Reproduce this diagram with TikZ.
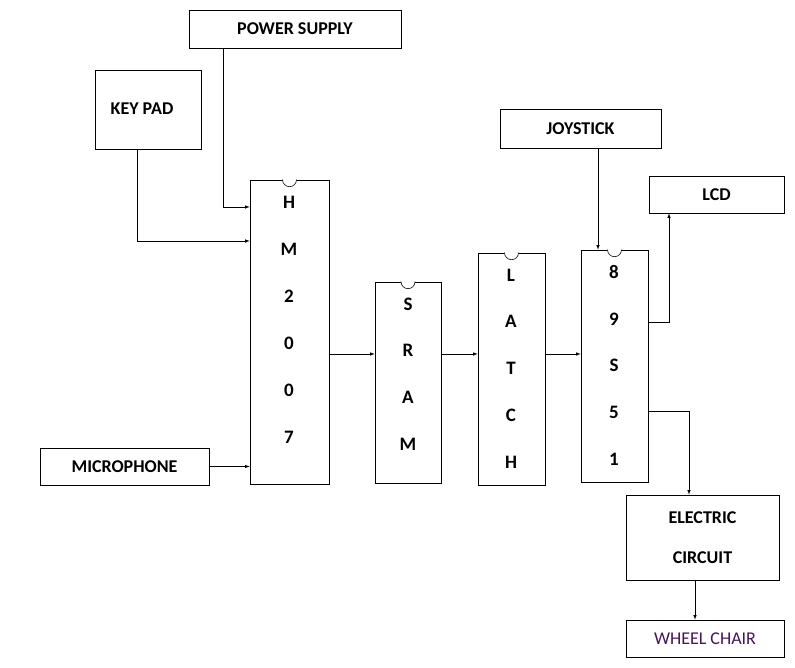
\documentclass[tikz,border=0pt]{standalone}
\usepackage{fontspec}
\setmainfont{Carlito}
\usetikzlibrary{calc}
\begin{document}
\begin{tikzpicture}[x=1pt,y=1pt,
  box/.style={draw,rectangle,inner sep=0,font=\fontsize{18}{22}\selectfont\bfseries},
  chip/.style={draw,rectangle,inner sep=0},
  lt/.style={font=\fontsize{19}{22}\selectfont\bfseries,inner sep=0},
  arr/.style={->,>=latex},
  line width=0.6pt]
\useasboundingbox (0,0) rectangle (795,668);
\node[box,minimum width=212,minimum height=38] (ps) at (295,639) {POWER SUPPLY};
\node[box,minimum width=106,minimum height=79] (kp) at (148,558.5) {};
\node[lt,font=\fontsize{18}{22}\selectfont\bfseries] (kpt) at (142,559) {KEY PAD};
\node[box,minimum width=161,minimum height=39] (js) at (580.5,539.5) {JOYSTICK};
\node[box,minimum width=135,minimum height=37] (lcd) at (716.5,473.5) {LCD};
\node[box,minimum width=169,minimum height=37] (mic) at (124.5,201.5) {MICROPHONE};
\node[box,minimum width=153,minimum height=85,align=center] (ec) at (702.5,130.5) {ELECTRIC\\[18pt]CIRCUIT};
\node[box,minimum width=158,minimum height=37,font=\fontsize{18}{22}\selectfont,text={rgb,255:red,70;green,20;blue,90}] (wc) at (705,29.5) {WHEEL CHAIR};
\node[chip,minimum width=79,minimum height=304] (hm) at (289.5,336) {};
\node[chip,minimum width=66,minimum height=201] (sr) at (408,285.5) {};
\node[chip,minimum width=67,minimum height=232] (la) at (511.5,299) {};
\node[chip,minimum width=67,minimum height=232] (mc) at (614.5,302) {};
\foreach \c in {hm,sr,la,mc}{
  \draw[fill=white] ($(\c.north)+(-7,0)$) arc (180:360:7);
}
\foreach \t [count=\i] in {H,M,2,0,0,7}{
  \node[lt] (hm\i) at (289,{668-202-47*(\i-1)}) {\t};}
\foreach \t [count=\i] in {S,R,A,M}{
  \node[lt] (sr\i) at (408,{668-304-46.7*(\i-1)}) {\t};}
\foreach \t [count=\i] in {L,A,T,C,H}{
  \node[lt] (la\i) at (511,{668-275-46.8*(\i-1)}) {\t};}
\foreach \t [count=\i] in {8,9,S,5,1}{
  \node[lt] (mc\i) at (614,{668-272-46.8*(\i-1)}) {\t};}
\coordinate (psx) at (223,0);
\coordinate (hmy1) at (0,461);
\coordinate (kpx) at (137,0);
\coordinate (hmy2) at (0,427);
\coordinate (my) at (0,314);
\coordinate (jsx) at (598,0);
\coordinate (lcdy) at (0,346);
\coordinate (lcdx) at (669,0);
\coordinate (ecy) at (0,257);
\coordinate (ecx) at (689,0);
\coordinate (wcx) at (695,0);
\draw[arr] (ps.south -| psx) |- (hm.west |- hmy1);
\draw[arr] (kp.south -| kpx) |- (hm.west |- hmy2);
\draw[arr] (mic.east) -- (hm.west |- mic.east);
\draw[arr] (hm.east |- my) -- (sr.west |- my);
\draw[arr] (sr.east |- my) -- (la.west |- my);
\draw[arr] (la.east |- my) -- (mc.west |- my);
\draw[arr] (js.south -| jsx) -- (mc.north -| jsx);
\draw[arr] (mc.east |- lcdy) -| (lcd.south -| lcdx);
\draw[arr] (mc.east |- ecy) -| (ec.north -| ecx);
\draw[arr] (ec.south -| wcx) -- (wc.north -| wcx);
\end{tikzpicture}
\end{document}
